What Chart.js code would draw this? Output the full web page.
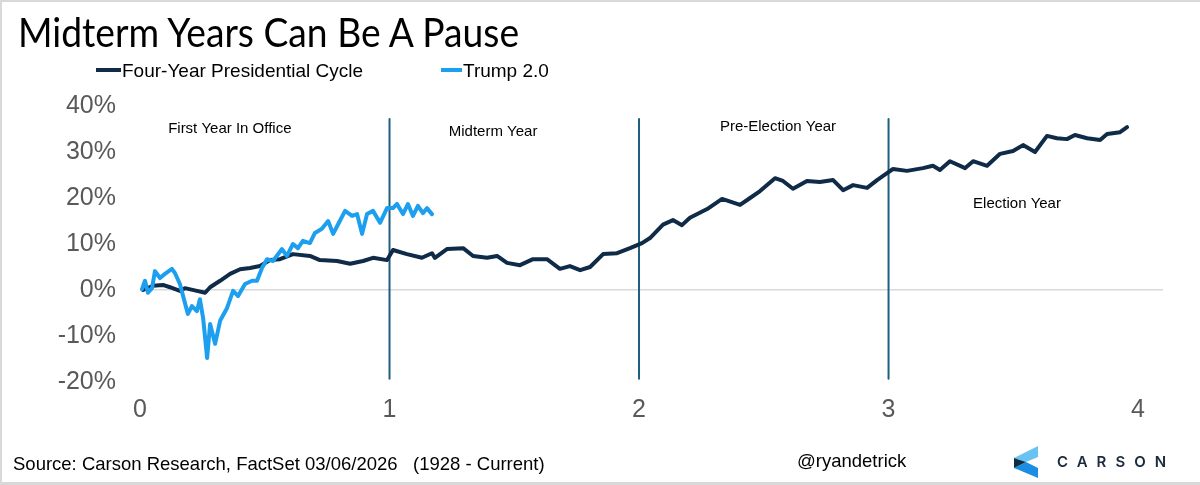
<!DOCTYPE html>
<html>
<head>
<meta charset="utf-8">
<title>Midterm Years Can Be A Pause</title>
<script src="https://cdn.jsdelivr.net/npm/chart.js@4.4.1/dist/chart.umd.min.js"></script>
<style>
  html, body { margin: 0; padding: 0; background: #fff; }
  #wrap { position: relative; width: 1200px; height: 485px; overflow: hidden; background: #fff; }
  #chartBox { position: absolute; left: 0; top: 0; width: 1200px; height: 485px; }
  .txt { position: absolute; white-space: pre; line-height: 0; transform-origin: 0 0; color: #000; }
  #title { font-family: Lato, "Open Sans", sans-serif; font-size: 40px; }
  .leg { font-family: "Liberation Sans", Arial, sans-serif; font-size: 19px; }
  .mark { position: absolute; height: 4px; }
  #source, #handle { font-family: "Liberation Sans", Arial, sans-serif; font-size: 18.5px; }
  #brand { font-family: Inter, Lato, sans-serif; font-weight: 600; font-size: 15px; letter-spacing: 9px; color: #1b2b3d; }
  #frame { position: absolute; left: 0; top: 0; width: 1200px; height: 485px; box-sizing: border-box;
           border-top: 2px solid #d9d9d9; border-left: 2px solid #d9d9d9; border-bottom: 3px solid #d9d9d9; pointer-events: none; }
  #logo { position: absolute; left: 1010px; top: 443px; }
</style>
</head>
<body>
<div id="wrap">
  <div id="chartBox"><canvas id="myChart"></canvas></div>
  <div id="title" class="txt">Midterm Years Can Be A Pause</div>
  <div id="legend"></div>
  <div id="source" class="txt">Source: Carson Research, FactSet 03/06/2026   (1928 - Current)</div>
  <div id="handle" class="txt">@ryandetrick</div>
  <svg id="logo" width="32" height="36" viewBox="0 0 32 36">
    <polygon points="4,15 28,3 28,14 16,19" fill="#69c3f2"/>
    <polygon points="4,25 16,19 28,25 28,35" fill="#1a8ee3"/>
    <polygon points="4,15 16,19 4,25" fill="#0f2b45"/>
  </svg>
  <div id="brand" class="txt">CARSON</div>
  <div id="frame"></div>
</div>
<script>
// years into the presidential term (x) and return in % (y)
const cycleX = [0.012, 0.052, 0.092, 0.120, 0.160, 0.180, 0.228, 0.261, 0.281, 0.321,
  0.361, 0.401, 0.441, 0.481, 0.521, 0.561, 0.613, 0.681, 0.721, 0.790,
  0.842, 0.894, 0.934, 0.990, 1.014, 1.070, 1.130, 1.170, 1.182, 1.230,
  1.295, 1.335, 1.391, 1.431, 1.471, 1.523, 1.575, 1.631, 1.683, 1.723,
  1.764, 1.804, 1.856, 1.912, 1.964, 2.012, 2.044, 2.096, 2.136, 2.172,
  2.204, 2.273, 2.333, 2.405, 2.445, 2.485, 2.545, 2.577, 2.617, 2.673,
  2.725, 2.778, 2.818, 2.858, 2.914, 2.954, 2.994, 3.018, 3.074, 3.138,
  3.178, 3.206, 3.246, 3.307, 3.339, 3.395, 3.447, 3.499, 3.539, 3.587,
  3.635, 3.675, 3.715, 3.747, 3.796, 3.848, 3.876, 3.928, 3.956];
const cycleY = [0.0, 0.9, 1.1, 0.6, -0.2, 0.4, -0.2, -0.6, 0.6, 2.0,
  3.5, 4.5, 4.8, 5.2, 6.5, 6.7, 7.8, 7.4, 6.5, 6.3,
  5.7, 6.3, 7.0, 6.5, 8.7, 7.8, 7.0, 8.0, 7.0, 8.9,
  9.1, 7.4, 7.0, 7.4, 5.9, 5.4, 6.7, 6.7, 4.6, 5.2,
  4.3, 5.0, 7.8, 8.0, 9.1, 10.2, 11.3, 14.2, 15.2, 14.1,
  15.7, 17.6, 19.8, 18.5, 20.0, 21.5, 24.3, 23.7, 22.0, 23.7,
  23.5, 23.9, 21.7, 22.8, 22.2, 23.9, 25.4, 26.3, 25.9, 26.5,
  27.0, 26.1, 28.0, 26.5, 28.0, 27.0, 29.6, 30.2, 31.5, 30.0,
  33.5, 33.0, 32.8, 33.7, 33.0, 32.6, 33.9, 34.3, 35.4];

const trumpX = [0.008, 0.020, 0.032, 0.048, 0.060, 0.080, 0.100, 0.128, 0.140, 0.160,
  0.180, 0.192, 0.208, 0.228, 0.240, 0.253, 0.269, 0.281, 0.301, 0.321,
  0.349, 0.373, 0.393, 0.421, 0.449, 0.469, 0.489, 0.509, 0.533, 0.569,
  0.589, 0.613, 0.633, 0.653, 0.681, 0.701, 0.729, 0.754, 0.774, 0.794,
  0.822, 0.850, 0.870, 0.890, 0.910, 0.934, 0.962, 0.990, 1.014, 1.030,
  1.054, 1.074, 1.094, 1.114, 1.134, 1.150, 1.170];
const trumpY = [0.2, 2.0, -0.6, 0.4, 4.1, 2.6, 3.5, 4.6, 3.7, 1.3,
  -2.8, -5.2, -3.5, -4.6, -2.0, -6.1, -14.8, -7.4, -11.7, -6.7,
  -3.9, -0.2, -1.3, 1.3, 2.0, 2.0, 4.8, 6.7, 6.3, 8.9,
  7.4, 10.0, 9.1, 10.7, 10.2, 12.4, 13.3, 15.0, 12.2, 14.3,
  17.2, 16.1, 16.5, 12.2, 16.5, 17.2, 14.6, 17.8, 17.8, 18.7,
  16.5, 18.7, 16.1, 18.3, 16.7, 17.8, 16.5];

const xTicks = [0, 1, 2, 3, 4];
const yTicks = [-20, -10, 0, 10, 20, 30, 40];

// year boundaries and how far the divider lines reach
const dividerX = [1, 2, 3];
const dividerY = [37.2, -19.3];

const periodNames = ['First Year In Office', 'Midterm Year', 'Pre-Election Year', 'Election Year'];
const periodX = [0.36, 1.415, 2.557, 3.515];
const periodY = [35.0, 34.3, 35.4, 18.7];

function points(xs, ys) {
  return xs.map((x, i) => ({x: x, y: ys[i]}));
}

const darkBlue = '#0f2b47';
const skyBlue = '#1d9ff0';

let datasets = [
  {label: 'Four-Year Presidential Cycle', data: points(cycleX, cycleY), borderColor: darkBlue, borderWidth: 4, order: 2},
  {label: 'Trump 2.0', data: points(trumpX, trumpY), borderColor: skyBlue, borderWidth: 4, order: 1}
];
dividerX.forEach(function (x) {
  datasets.push({label: '', data: [{x: x, y: dividerY[0]}, {x: x, y: dividerY[1]}],
    borderColor: '#1f5e80', borderWidth: 2, order: 3});
});

const periodLabels = {
  id: 'periodLabels',
  afterDatasetsDraw(chart) {
    const ctx = chart.ctx;
    const xs = chart.scales.x, ys = chart.scales.y;
    ctx.save();
    ctx.font = '15px "Liberation Sans", Arial, sans-serif';
    ctx.fillStyle = '#000';
    ctx.textAlign = 'center';
    ctx.textBaseline = 'middle';
    for (let i = 0; i < periodNames.length; i++) {
      ctx.fillText(periodNames[i], xs.getPixelForValue(periodX[i]), ys.getPixelForValue(periodY[i]));
    }
    ctx.restore();
  }
};

const tickFont = {family: '"Liberation Sans", Arial, sans-serif', size: 25};

var ctx = document.getElementById('myChart').getContext('2d');
var myChart = new Chart(ctx, {
  type: 'line',
  data: {datasets: datasets},
  options: {
    responsive: true,
    maintainAspectRatio: false,
    animation: false,
    layout: {padding: {top: 106, right: 37, bottom: 63, left: 0}},
    elements: {point: {radius: 0}, line: {tension: 0, borderJoinStyle: 'round', borderCapStyle: 'round'}},
    plugins: {legend: {display: false}, tooltip: {enabled: false}},
    scales: {
      x: {
        type: 'linear', min: 0, max: 4.1,
        afterBuildTicks: function (s) { s.ticks = xTicks.map(v => ({value: v})); },
        afterFit: function (s) { s.height = 40; },
        grid: {display: false, drawTicks: false},
        border: {display: false},
        ticks: {font: tickFont, color: '#595959', padding: 13, maxRotation: 0}
      },
      y: {
        min: -20, max: 40,
        afterBuildTicks: function (s) { s.ticks = yTicks.map(v => ({value: v})); },
        afterFit: function (s) { s.width = 140; },
        grid: {drawTicks: false, lineWidth: 1.5,
          color: function (c) { return c.tick && c.tick.value === 0 ? '#d9d9d9' : 'rgba(0,0,0,0)'; }},
        border: {display: false},
        ticks: {font: tickFont, color: '#595959', padding: 24, callback: function (v) { return v + '%'; }}
      }
    }
  },
  plugins: [periodLabels]
});

// html text, placed by its baseline
function placeText(el, left, baseline, width) {
  const cs = getComputedStyle(el);
  const c = document.createElement('canvas').getContext('2d');
  c.font = cs.fontWeight + ' ' + cs.fontSize + ' ' + cs.fontFamily;
  const m = c.measureText(el.textContent);
  const asc = m.fontBoundingBoxAscent, desc = m.fontBoundingBoxDescent;
  el.style.left = left + 'px';
  el.style.top = (baseline - (asc - desc) / 2) + 'px';
  if (width) el.style.transform = 'scaleX(' + (width / m.width) + ')';
}

placeText(document.getElementById('title'), 18, 47, 505);

const legendBox = document.getElementById('legend');
const legendSpots = [[96, 25, 122], [441, 21, 463]];
datasets.slice(0, 2).forEach(function (ds, i) {
  const mk = document.createElement('div');
  mk.className = 'mark';
  mk.style.left = legendSpots[i][0] + 'px';
  mk.style.width = legendSpots[i][1] + 'px';
  mk.style.top = '68px';
  mk.style.background = ds.borderColor;
  legendBox.appendChild(mk);
  const t = document.createElement('div');
  t.className = 'txt leg';
  t.textContent = ds.label;
  legendBox.appendChild(t);
  placeText(t, legendSpots[i][2], 77);
});

placeText(document.getElementById('source'), 13, 470);
placeText(document.getElementById('handle'), 797, 467);
placeText(document.getElementById('brand'), 1057, 467);
</script>
</body>
</html>
